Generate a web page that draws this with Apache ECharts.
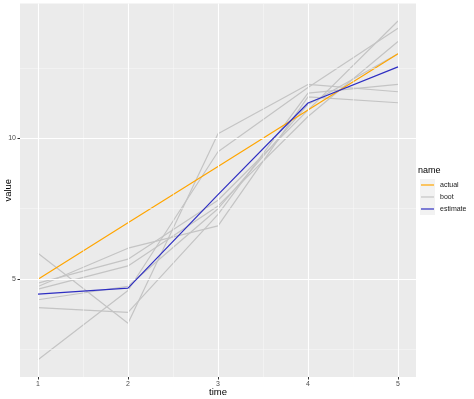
<!DOCTYPE html>
<html>
<head>
<meta charset="utf-8">
<script src="https://cdn.jsdelivr.net/npm/echarts@6/dist/echarts.min.js"></script>
<style>
  html, body { margin: 0; padding: 0; background: #fff; }
  #main { width: 474px; height: 399px; }
</style>
</head>
<body>
<div id="main"></div>
<script>
// time points and tick positions
const times = [1, 2, 3, 4, 5];
const xTicks = [1, 2, 3, 4, 5];
const xMinor = [1.5, 2.5, 3.5, 4.5];
const yTicks = [5, 10];
const yMinor = [2.5, 7.5, 12.5];

// series values
const actual = [5.0, 7.0, 9.0, 11.0, 13.0];
const estimate = [4.47, 4.68, 8.0, 11.25, 12.53];
const boot1 = [5.92, 3.44, 10.16, 11.91, 11.65];
const boot2 = [2.14, 4.6, 9.52, 11.8, 13.9];
const boot3 = [4.86, 5.71, 7.8, 11.0, 14.16];
const boot4 = [4.74, 6.1, 6.89, 11.47, 11.26];
const boot5 = [4.65, 5.47, 7.6, 10.77, 13.43];
const boot6 = [4.27, 4.75, 7.5, 11.2, 13.0];
const boot7 = [3.99, 3.82, 7.3, 11.6, 11.91];
const boots = [boot1, boot2, boot3, boot4, boot5, boot6, boot7];

var chartDom = document.getElementById("main");
var myChart = echarts.init(chartDom);
var option;

const pairs = (vals) => times.map((t, i) => [t, vals[i]]);

const lineSeries = (name, vals, color, z) => ({
  name: name,
  type: "line",
  data: pairs(vals),
  symbol: "none",
  silent: true,
  z: z,
  lineStyle: { color: color, width: 1.2 },
  itemStyle: { color: color },
});

const series = [];
boots.forEach((b) => series.push(lineSeries("boot", b, "#C4C4C4", 3)));
series.push(lineSeries("actual", actual, "#FFA500", 4));
series.push(lineSeries("estimate", estimate, "#2E2EC2", 5));

// gridlines as a backing series
series.push({
  type: "line",
  data: [],
  silent: true,
  z: 1,
  markLine: {
    silent: true,
    symbol: "none",
    label: { show: false },
    animation: false,
    data: [
      ...xMinor.map((v) => ({ xAxis: v, lineStyle: { color: "#F7F7F7", width: 0.6, type: "solid" } })),
      ...yMinor.map((v) => ({ yAxis: v, lineStyle: { color: "#F7F7F7", width: 0.6, type: "solid" } })),
      ...xTicks.map((v) => ({ xAxis: v, lineStyle: { color: "#FFFFFF", width: 1.1, type: "solid" } })),
      ...yTicks.map((v) => ({ yAxis: v, lineStyle: { color: "#FFFFFF", width: 1.1, type: "solid" } })),
    ],
  },
});

const tickLabel = { color: "#4D4D4D", fontSize: 7, fontFamily: "Liberation Sans, Arial, sans-serif" };

option = {
  animation: false,
  backgroundColor: "#FFFFFF",
  textStyle: { fontFamily: "Liberation Sans, Arial, sans-serif" },
  grid: {
    left: 20,
    right: 58,
    top: 3.5,
    bottom: 22,
    containLabel: false,
    outerBoundsMode: "none",
    show: true,
    backgroundColor: "#EBEBEB",
    borderWidth: 0,
  },
  xAxis: {
    type: "value",
    min: 0.8,
    max: 5.2,
    name: "time",
    nameLocation: "middle",
    nameGap: 10,
    nameMoveOverlap: false,
    nameTextStyle: { color: "#000", fontSize: 9.5, verticalAlign: "top" },
    axisLine: { show: false },
    axisTick: { show: true, length: 2.5, lineStyle: { color: "#333" }, customValues: xTicks },
    axisLabel: Object.assign({ margin: 4, customValues: xTicks }, tickLabel),
    splitLine: { show: false },
  },
  yAxis: {
    type: "value",
    min: 1.53,
    max: 14.78,
    name: "value",
    nameLocation: "middle",
    nameGap: 7,
    nameMoveOverlap: false,
    nameTextStyle: { color: "#000", fontSize: 9.5, verticalAlign: "bottom" },
    axisLine: { show: false },
    axisTick: { show: true, length: 2.5, lineStyle: { color: "#333" }, customValues: yTicks },
    axisLabel: Object.assign({ margin: 4, customValues: yTicks }, tickLabel),
    splitLine: { show: false },
  },
  legend: {
    orient: "vertical",
    left: 421,
    top: 179,
    icon: "rect",
    itemWidth: 13,
    itemHeight: 1.2,
    itemGap: 0,
    data: ["actual", "boot", "estimate"],
    textStyle: { fontSize: 7, lineHeight: 12, color: "#1A1A1A", padding: [0, 0, 0, 1] },
    padding: 0,
  },
  graphic: [
    {
      type: "text",
      left: 418,
      top: 166,
      style: { text: "name", fontSize: 9, fill: "#000", fontFamily: "Liberation Sans, Arial, sans-serif" },
    },
    { type: "rect", left: 420, top: 179, shape: { width: 15, height: 12 }, style: { fill: "#F2F2F2" }, z: -1 },
    { type: "rect", left: 420, top: 191, shape: { width: 15, height: 12 }, style: { fill: "#F2F2F2" }, z: -1 },
    { type: "rect", left: 420, top: 203, shape: { width: 15, height: 12 }, style: { fill: "#F2F2F2" }, z: -1 },
  ],
  series: series,
};

option && myChart.setOption(option);
</script>
</body>
</html>
